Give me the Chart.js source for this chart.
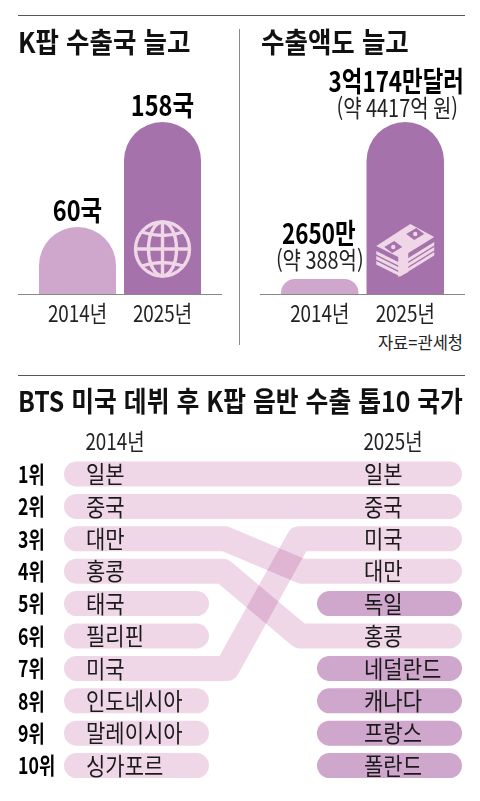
<!DOCTYPE html>
<html lang="ko">
<head>
<meta charset="utf-8">
<title>K팝 수출</title>
<script src="https://cdn.jsdelivr.net/npm/chart.js@4"></script>
<style>
html,body{margin:0;padding:0;background:#fff}
#page{position:relative;width:480px;height:801px;overflow:hidden;font-family:"Noto Sans CJK KR",sans-serif;color:#111}
canvas{position:absolute}
.rule{position:absolute;background:#555}
.ttl{position:absolute;font-weight:700;white-space:nowrap;transform-origin:0 50%;line-height:30px;font-size:28px}
.src{position:absolute;font-size:16.5px;right:17px;top:331px;line-height:22px;color:#222}
</style>
</head>
<body>
<div id="page">
  <div class="rule" style="left:18px;top:15px;width:447px;height:1px"></div>
  <div class="rule" style="left:239px;top:29px;width:1px;height:316px;background:#888"></div>
  <div class="rule" style="left:18px;top:375px;width:447px;height:1px"></div>
  <canvas id="countries" style="left:18px;top:0" width="204" height="330"></canvas>
  <canvas id="amount" style="left:260px;top:0" width="205" height="330"></canvas>
  <canvas id="bump" style="left:0;top:378px" width="480" height="423"></canvas>
  <div class="rule" style="left:18px;top:294px;width:204px;height:1px;background:#888"></div>
  <div class="rule" style="left:260px;top:294px;width:205px;height:1px;background:#888"></div>
  <div class="ttl" style="left:18px;top:26px;transform:scaleX(.91)">K팝 수출국 늘고</div>
  <div class="ttl" style="left:261px;top:26px;transform:scaleX(.91)">수출액도 늘고</div>
  <div class="ttl" style="left:18px;top:385px;transform:scaleX(.886)">BTS 미국 데뷔 후 K팝 음반 수출 톱10 국가</div>
  <div class="src">자료=관세청</div>
</div>
<script>
const FONT = '"Noto Sans CJK KR",sans-serif';
const LIGHT = '#cfa6cc';
const DARK = '#a572ab';
const PILL = '#efd7e8';

const YEARS = ['2014년','2025년'];
const COUNTRY_COUNT = [60,158];
const COUNTRY_LABELS = ['60국','158국'];
const EXPORT_AMOUNT = [2650,30174];   // 만달러
const AMOUNT_LABELS = ['2650만','3억174만달러'];
const AMOUNT_SUBS = ['(약 388억)','(약 4417억 원)'];
const RANK_2014 = ['일본','중국','대만','홍콩','태국','필리핀','미국','인도네시아','말레이시아','싱가포르'];
const RANK_2025 = ['일본','중국','미국','대만','독일','홍콩','네덜란드','캐나다','프랑스','폴란드'];

// 순위 띠가 꺾이는 구간
const BENDS = {'대만':[225,302],'홍콩':[223,300],'미국':[227,299]};

// 원본 글꼴이 좁아서 가로로 눌러 그린다
function narrowText(ctx,text,x,y,sx,align){
  ctx.save();
  ctx.translate(x,y);
  ctx.scale(sx,1);
  ctx.textAlign = align||'center';
  ctx.textBaseline = 'middle';
  ctx.fillText(text,0,0);
  ctx.restore();
}

function barLabels(main, sub){
  return {
    id:'barLabels',
    afterDraw(chart){
      const ctx = chart.ctx;
      const bars = chart.getDatasetMeta(0).data;
      ctx.save();
      bars.forEach((b,i)=>{
        ctx.fillStyle = '#000';
        ctx.font = '700 28px '+FONT;
        if(sub){
          const shiftX = i ? -9 : -1, shiftY = i ? 0 : -5;
          narrowText(ctx,main[i],b.x+shiftX,b.y-41+shiftY,.80);
          ctx.font = '400 24px '+FONT;
          ctx.fillStyle = '#222';
          narrowText(ctx,sub[i],b.x+shiftX+1,b.y-14+shiftY,.83);
        }else{
          narrowText(ctx,main[i],b.x,b.y-17,.84);
        }
      });
      ctx.fillStyle = '#222';
      ctx.font = '400 23px '+FONT;
      chart.scales.x.ticks.forEach((t,i)=>{
        narrowText(ctx,YEARS[i],chart.scales.x.getPixelForTick(i),chart.chartArea.bottom+19,.82);
      });
      ctx.restore();
    }
  };
}

const globeIcon = {
  id:'globeIcon',
  afterDatasetsDraw(chart){
    const ctx = chart.ctx;
    const b = chart.getDatasetMeta(0).data[1];
    const cx = b.x, cy = chart.chartArea.bottom - 45, r = 27;
    ctx.save();
    ctx.strokeStyle = PILL;
    ctx.lineWidth = 3.4;
    ctx.beginPath(); ctx.arc(cx,cy,r,0,Math.PI*2); ctx.stroke();
    ctx.beginPath(); ctx.ellipse(cx,cy,14,r,0,0,Math.PI*2); ctx.stroke();
    ctx.beginPath();
    ctx.moveTo(cx,cy-r); ctx.lineTo(cx,cy+r);
    ctx.moveTo(cx-r,cy); ctx.lineTo(cx+r,cy);
    ctx.moveTo(cx-21,cy-17); ctx.quadraticCurveTo(cx,cy-10,cx+21,cy-17);
    ctx.moveTo(cx-21,cy+17); ctx.quadraticCurveTo(cx,cy+10,cx+21,cy+17);
    ctx.stroke();
    ctx.restore();
  }
};

const moneyIcon = {
  id:'moneyIcon',
  afterDatasetsDraw(chart){
    const ctx = chart.ctx;
    const b = chart.getDatasetMeta(0).data[1];
    const cx = b.x, base = chart.chartArea.bottom;
    const poly = (pts,fill)=>{
      ctx.fillStyle = fill;
      ctx.beginPath();
      pts.forEach((p,i)=> i ? ctx.lineTo(cx+p[0],base+p[1]) : ctx.moveTo(cx+p[0],base+p[1]));
      ctx.closePath();
      ctx.fill();
    };
    ctx.save();
    // 지폐 묶음 옆면
    [5,10,15].forEach(dy=>{
      poly([[-29,-48+dy],[-5,-36+dy],[-5,-32.5+dy],[-29,-44.5+dy]],PILL);
      poly([[-5,-36+dy],[29,-57+dy],[29,-53.5+dy],[-5,-32.5+dy]],PILL);
    });
    poly([[-7,-37],[3,-42],[3,-22],[-7,-17]],PILL);
    // 윗면
    poly([[-29,-48],[5,-70],[29,-57],[-5,-36]],PILL);
    [[-12,-47],[10,-60]].forEach(c=>{
      poly([[c[0]-9,c[1]],[c[0]+1,c[1]-6],[c[0]+9,c[1]],[c[0]-1,c[1]+6]],DARK);
      ctx.fillStyle = PILL;
      ctx.beginPath();
      ctx.arc(cx+c[0],base+c[1],2.2,0,Math.PI*2);
      ctx.fill();
    });
    ctx.restore();
  }
};

function barChart(id, values, labels, subs, icon, yMin, baseValue, radii){
  new Chart(document.getElementById(id),{
    type:'bar',
    data:{labels:YEARS,datasets:[{
      data:values,
      base:baseValue,
      backgroundColor:[LIGHT,DARK],
      borderSkipped:false,
      borderRadius:c=>({topLeft:radii[c.dataIndex],topRight:radii[c.dataIndex],bottomLeft:0,bottomRight:0}),
      barPercentage:0.906,
      categoryPercentage:1
    }]},
    options:{
      responsive:false,animation:false,
      layout:{padding:{top:122,left:17,right:17,bottom:0}},
      plugins:{legend:{display:false},tooltip:{enabled:false}},
      scales:{
        x:{
          grid:{display:false},border:{display:false},
          afterFit(s){s.height=36;},
          ticks:{display:false}
        },
        y:{display:false,min:yMin,max:Math.max(...values)}
      }
    },
    plugins:[barLabels(labels,subs),icon]
  });
}

barChart('countries',COUNTRY_COUNT,COUNTRY_LABELS,null,globeIcon,-2.5,-200,[39,39]);
barChart('amount',EXPORT_AMOUNT,AMOUNT_LABELS,AMOUNT_SUBS,moneyIcon,0,-30000,[14,39]);

// 순위 띠
const X0 = 76.5, X1 = 449.5, SHORT_END = 196.5, RIGHT_START = 329.5;
const YEAR_X = [115,393];
const bands = [];
RANK_2014.forEach((name,i)=>{
  const j = RANK_2025.indexOf(name);
  let pts;
  if(j<0) pts = [{x:X0,y:i+1},{x:SHORT_END,y:i+1}];
  else if(i===j) pts = [{x:X0,y:i+1},{x:X1,y:j+1}];
  else pts = [{x:X0,y:i+1},{x:BENDS[name][0],y:i+1},{x:BENDS[name][1],y:j+1},{x:X1,y:j+1}];
  bands.push({data:pts,borderColor:PILL});
});
RANK_2025.forEach((name,j)=>{
  if(RANK_2014.includes(name)) return;
  bands.push({data:[{x:RIGHT_START,y:j+1},{x:X1,y:j+1}],borderColor:LIGHT});
});

const bumpPlugin = {
  id:'bumpPlugin',
  beforeDraw(chart){
    chart.ctx.save();
    chart.ctx.fillStyle='#fff';
    chart.ctx.fillRect(0,0,chart.width,chart.height);
    chart.ctx.restore();
  },
  beforeDatasetsDraw(chart){
    chart.ctx.save();
    chart.ctx.globalCompositeOperation='multiply';
  },
  afterDatasetsDraw(chart){
    chart.ctx.restore();
    const ctx = chart.ctx, y = chart.scales.y, x = chart.scales.x;
    ctx.save();
    ctx.font = '400 24px '+FONT;
    ctx.fillStyle = '#1a1a1a';
    RANK_2014.forEach((n,i)=>narrowText(ctx,n,x.getPixelForValue(86),y.getPixelForValue(i+1),.875,'left'));
    RANK_2025.forEach((n,i)=>narrowText(ctx,n,x.getPixelForValue(364),y.getPixelForValue(i+1),.875,'left'));
    ctx.font = '400 23px '+FONT;
    ctx.fillStyle = '#222';
    YEAR_X.forEach((v,i)=>narrowText(ctx,YEARS[i],x.getPixelForValue(v),chart.chartArea.top-33,.82));
    ctx.font = '700 23px '+FONT;
    ctx.fillStyle = '#000';
    RANK_2014.forEach((n,i)=>narrowText(ctx,(i+1)+'위',18,y.getPixelForValue(i+1),.77,'left'));
    ctx.restore();
  }
};

new Chart(document.getElementById('bump'),{
  type:'line',
  data:{datasets:bands.map(b=>({
    ...b,
    borderWidth:25,
    borderCapStyle:'round',
    borderJoinStyle:'round',
    pointRadius:0,
    tension:0,
    fill:false,
    clip:false
  }))},
  options:{
    responsive:false,animation:false,
    layout:{padding:{left:18,right:18,top:0,bottom:35.4}},
    plugins:{legend:{display:false},tooltip:{enabled:false}},
    scales:{
      x:{
        type:'linear',position:'top',min:64,max:462,
        grid:{display:false},border:{display:false},
        afterFit(s){s.height=96;},
        ticks:{display:false}
      },
      y:{
        type:'linear',reverse:true,min:1,max:10,
        grid:{display:false},border:{display:false},
        afterFit(s){s.width=46;},
        ticks:{display:false,stepSize:1}
      }
    }
  },
  plugins:[bumpPlugin]
});
</script>
</body>
</html>
